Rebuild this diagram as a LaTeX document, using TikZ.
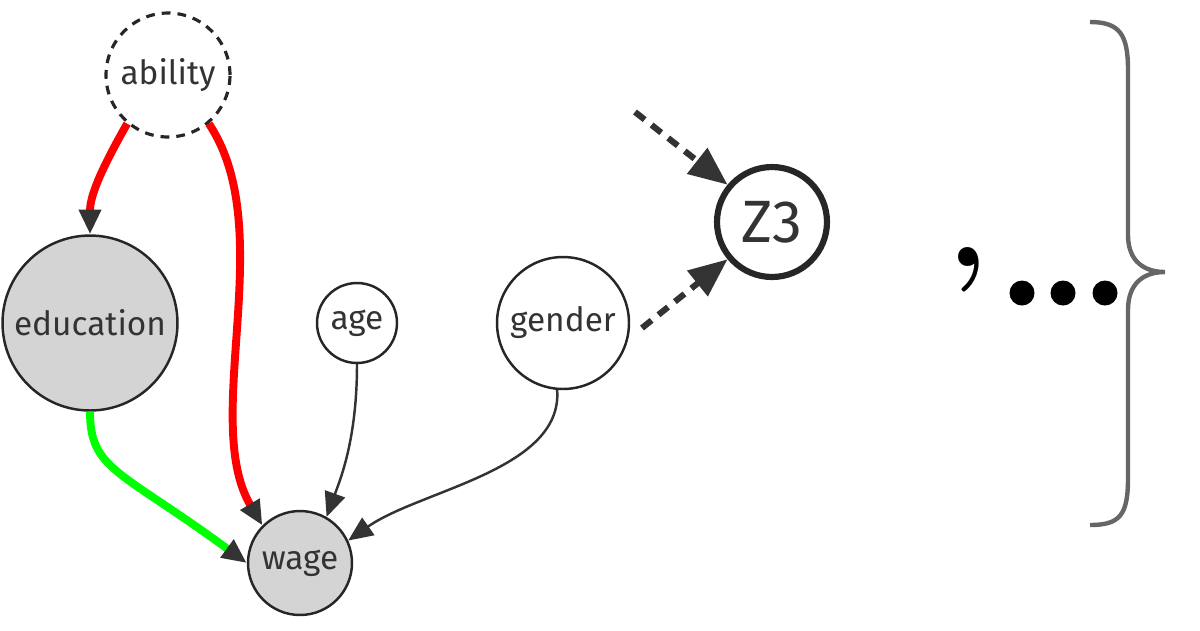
\documentclass[tikz,border=0pt]{standalone}
\usepackage{fontspec}
\setmainfont{Fira Sans}
\newfontfamily\lmfont{Latin Modern Roman}
\usetikzlibrary{arrows.meta}
\begin{document}
\begin{tikzpicture}[x=0.02cm,y=-0.02cm,
  nd/.style={circle,draw=black!85,line width=1.4pt,inner sep=0pt,font=\fontsize{19}{22}\selectfont,text=black!80},
  ar/.style={-{Triangle[length=14pt,width=12pt,color=black!80]},line width=1.4pt,draw=black!80},
  dotar/.style={-{Triangle[length=22pt,width=18pt]},line width=3.5pt,dash pattern=on 7pt off 5pt,draw=black!80}]
\useasboundingbox (0,0) rectangle (1200,630);
\node[nd,line width=1.8pt,dash pattern=on 5pt off 4pt,minimum size=2.48cm] (ab) at (168,75) {ability};
\node[nd,fill=black!17,minimum size=3.5cm] (ed) at (90,323) {education};
\node[nd,minimum size=1.6cm] (ag) at (357,323) {age};
\node[nd,minimum size=2.64cm] (ge) at (563,323) {gender};
\node[nd,fill=black!17,minimum size=2.08cm] (wa) at (300,563) {wage};
\node[nd,line width=3.5pt,minimum size=2.2cm,font=\fontsize{34}{40}\selectfont] (z3) at (772,222) {Z3};
\coordinate (s1) at (635,112);
\coordinate (s2) at (642,328);
\draw[ar,draw=red,line width=4.5pt] (ab.-130) .. controls (95,180) and (90,200) .. (ed.north);
\draw[ar,draw=red,line width=4.5pt] (ab.-50) .. controls (280,230) and (200,420) .. (wa.north west);
\draw[ar,draw=green,line width=4.5pt] (ed.south) .. controls (90,470) and (120,470) .. (wa.west);
\draw[ar] (ag.south) .. controls (357,440) and (340,480) .. (wa.60);
\draw[ar] (ge.-95) .. controls (563,470) and (420,490) .. (wa.25);
\draw[dotar] (s1) -- (z3.140);
\draw[dotar] (s2) -- (z3.-140);
\draw[black!60,line width=2.5pt] (1090,22) .. controls (1120,22) and (1128,35) .. (1128,70) -- (1128,235) .. controls (1128,262) and (1145,272) .. (1165,272) .. controls (1145,272) and (1128,282) .. (1128,310) -- (1128,478) .. controls (1128,515) and (1120,525) .. (1090,525);
\node[font=\fontsize{75}{75}\selectfont\lmfont\bfseries,inner sep=0pt] (cm) at (968,270) {,};
\foreach \x/\n in {1022/d1,1063/d2,1105/d3}{\fill[black] (\x,293) circle (12.5) coordinate (\n);}
\end{tikzpicture}
\end{document}
